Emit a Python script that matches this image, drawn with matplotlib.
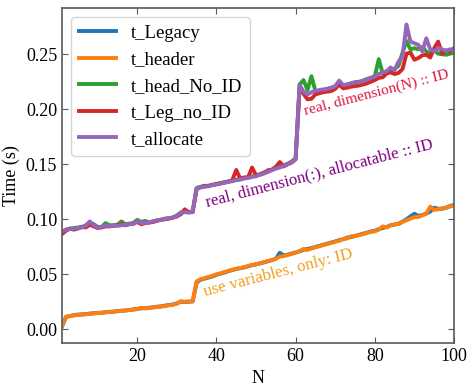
import numpy as np
import matplotlib
matplotlib.use('Agg')
import matplotlib.pyplot as plt

# timings
N = np.arange(1, 101)

t_Legacy = [0.0025, 0.011, 0.012, 0.0128, 0.0133, 0.0135, 0.0138, 0.0142, 0.0145, 0.0148,
            0.015, 0.0155, 0.0158, 0.016, 0.0165, 0.0168, 0.017, 0.0175, 0.018, 0.0185,
            0.019, 0.0192, 0.0195, 0.020, 0.0205, 0.0208, 0.0215, 0.022, 0.0225, 0.0235,
            0.025, 0.0248, 0.025, 0.0252, 0.0425, 0.045, 0.046, 0.047, 0.048, 0.0495,
            0.0505, 0.0515, 0.0528, 0.0538, 0.0548, 0.0555, 0.0562, 0.0572, 0.0582, 0.059,
            0.0598, 0.0608, 0.0618, 0.0628, 0.064, 0.0695, 0.067, 0.0678, 0.0688, 0.0698,
            0.0708, 0.0722, 0.073, 0.0738, 0.0748, 0.0758, 0.0768, 0.0778, 0.0788, 0.0798,
            0.081, 0.0818, 0.0832, 0.0838, 0.0848, 0.0858, 0.0868, 0.0878, 0.0888, 0.0895,
            0.091, 0.092, 0.093, 0.0945, 0.095, 0.096, 0.0978, 0.1, 0.1025, 0.105,
            0.103, 0.1038, 0.1052, 0.107, 0.1105, 0.1095, 0.1095, 0.1105, 0.112, 0.113]

t_header = [0.003, 0.0115, 0.012, 0.0125, 0.013, 0.0132, 0.0135, 0.014, 0.0143, 0.0147,
            0.015, 0.0153, 0.0157, 0.016, 0.0163, 0.0168, 0.0172, 0.0175, 0.0178, 0.0182,
            0.0195, 0.019, 0.0192, 0.0198, 0.0202, 0.0206, 0.021, 0.0218, 0.0222, 0.0232,
            0.0255, 0.025, 0.0252, 0.0255, 0.0435, 0.0455, 0.0465, 0.0475, 0.0485, 0.050,
            0.0508, 0.052, 0.053, 0.054, 0.055, 0.0555, 0.0565, 0.0575, 0.0585, 0.059,
            0.060, 0.061, 0.062, 0.063, 0.064, 0.066, 0.0665, 0.0675, 0.0685, 0.0695,
            0.071, 0.073, 0.072, 0.0735, 0.0745, 0.0755, 0.0765, 0.0775, 0.0785, 0.0795,
            0.0805, 0.082, 0.0825, 0.0845, 0.0845, 0.0855, 0.0865, 0.0875, 0.0885, 0.089,
            0.0905, 0.0935, 0.0925, 0.0945, 0.0955, 0.0955, 0.0975, 0.099, 0.1005, 0.102,
            0.102, 0.1035, 0.105, 0.1115, 0.1085, 0.109, 0.110, 0.1105, 0.1115, 0.1125]

t_head_No_ID = [0.088, 0.0905, 0.0915, 0.092, 0.0925, 0.093, 0.0945, 0.097, 0.0955, 0.093,
                0.093, 0.0965, 0.0945, 0.0945, 0.095, 0.098, 0.0955, 0.096, 0.0965, 0.0995,
                0.0975, 0.0985, 0.097, 0.098, 0.099, 0.0995, 0.1005, 0.101, 0.1015, 0.1035,
                0.106, 0.1065, 0.1065, 0.1065, 0.1285, 0.1295, 0.1305, 0.130, 0.1315, 0.132,
                0.133, 0.1335, 0.1345, 0.135, 0.136, 0.1365, 0.1375, 0.138, 0.139, 0.1395,
                0.141, 0.1425, 0.1435, 0.145, 0.1475, 0.1475, 0.149, 0.1505, 0.1525, 0.1555,
                0.2225, 0.2265, 0.2175, 0.230, 0.2165, 0.2165, 0.2175, 0.2185, 0.2195, 0.2205,
                0.2245, 0.2215, 0.2225, 0.2235, 0.2245, 0.225, 0.226, 0.2275, 0.2285, 0.230,
                0.2455, 0.2325, 0.2345, 0.2355, 0.2365, 0.2395, 0.2515, 0.262, 0.2545, 0.2555,
                0.2545, 0.2565, 0.2525, 0.2505, 0.2535, 0.2505, 0.250, 0.2495, 0.2505, 0.2515]

t_Leg_no_ID = [0.0865, 0.0895, 0.0915, 0.0905, 0.0915, 0.093, 0.0925, 0.095, 0.0935, 0.092,
               0.0925, 0.0935, 0.0935, 0.094, 0.0945, 0.0955, 0.0945, 0.0955, 0.096, 0.0975,
               0.0955, 0.0965, 0.097, 0.0975, 0.0985, 0.0995, 0.100, 0.1005, 0.1015, 0.1025,
               0.1045, 0.109, 0.1065, 0.107, 0.1275, 0.129, 0.130, 0.1305, 0.131, 0.132,
               0.1325, 0.1335, 0.134, 0.1355, 0.1448, 0.137, 0.138, 0.138, 0.147, 0.140,
               0.1405, 0.142, 0.1445, 0.145, 0.1475, 0.152, 0.148, 0.150, 0.1515, 0.1545,
               0.219, 0.214, 0.209, 0.2095, 0.2135, 0.2145, 0.2155, 0.216, 0.2165, 0.2185,
               0.2225, 0.219, 0.2195, 0.2205, 0.221, 0.2215, 0.2225, 0.2235, 0.225, 0.2265,
               0.2285, 0.229, 0.2325, 0.2335, 0.232, 0.233, 0.2365, 0.2505, 0.2515, 0.245,
               0.2465, 0.249, 0.2495, 0.247, 0.2555, 0.2615, 0.2505, 0.2535, 0.2525, 0.2555]

t_allocate = [0.089, 0.0905, 0.091, 0.0915, 0.092, 0.0925, 0.094, 0.098, 0.0945, 0.0925,
              0.093, 0.0945, 0.0935, 0.0945, 0.094, 0.0945, 0.095, 0.0955, 0.0955, 0.0985,
              0.0965, 0.097, 0.0975, 0.098, 0.099, 0.0995, 0.1005, 0.101, 0.1015, 0.1025,
              0.106, 0.1065, 0.106, 0.1065, 0.128, 0.129, 0.1295, 0.130, 0.131, 0.1315,
              0.1325, 0.133, 0.134, 0.1345, 0.1355, 0.136, 0.137, 0.1375, 0.1385, 0.139,
              0.1405, 0.1415, 0.143, 0.1445, 0.146, 0.147, 0.1485, 0.150, 0.152, 0.155,
              0.222, 0.216, 0.2135, 0.2155, 0.2165, 0.2175, 0.218, 0.2185, 0.2195, 0.221,
              0.226, 0.222, 0.2225, 0.2235, 0.2245, 0.2245, 0.2255, 0.227, 0.2285, 0.2295,
              0.232, 0.2335, 0.2345, 0.238, 0.2355, 0.2435, 0.248, 0.277, 0.2615, 0.260,
              0.2585, 0.2525, 0.2645, 0.2545, 0.2525, 0.2555, 0.2545, 0.253, 0.2545, 0.2535]

plt.rcParams['font.family'] = ['Liberation Serif', 'DejaVu Serif']
plt.rcParams['font.size'] = 13
plt.rcParams['xtick.direction'] = 'in'
plt.rcParams['ytick.direction'] = 'in'
plt.rcParams['xtick.top'] = True
plt.rcParams['ytick.right'] = True

fig = plt.figure(figsize=(4.74, 3.91), dpi=100)
ax = fig.add_axes([0.1308, 0.1228, 0.827, 0.8567])

ax.plot(N, t_Legacy, lw=2.8, label='t_Legacy')
ax.plot(N, t_header, lw=2.8, label='t_header')
ax.plot(N, t_head_No_ID, lw=2.8, label='t_head_No_ID')
ax.plot(N, t_Leg_no_ID, lw=2.8, label='t_Leg_no_ID')
ax.plot(N, t_allocate, lw=2.8, label='t_allocate')

ax.text(62.3, 0.1948, 'real, dimension(N) :: ID', color='crimson', rotation=14.5,
        rotation_mode='anchor', ha='left', va='baseline', fontsize=11.1)
ax.text(37.6, 0.112, 'real, dimension(:), allocatable :: ID', color='purple', rotation=14.5,
        rotation_mode='anchor', ha='left', va='baseline', fontsize=12)
ax.text(37.1, 0.0303, 'use variables, only: ID', color='#f0a020', rotation=14.5,
        rotation_mode='anchor', ha='left', va='baseline', fontsize=12.2)

ax.set_xlim(1, 100)
ax.set_ylim(-0.0125, 0.292)
ax.set_xticks([20, 40, 60, 80, 100])
ax.set_yticks([0.0, 0.05, 0.10, 0.15, 0.20, 0.25])
ax.tick_params(length=4, color='0.35')
for s in ax.spines.values():
    s.set_color('0.35')
    s.set_linewidth(1.2)

ax.set_xlabel('N')
ax.set_ylabel('Time (s)')
ax.legend(loc='upper left', fontsize=13.5)

fig.savefig('out.png', dpi=100)
